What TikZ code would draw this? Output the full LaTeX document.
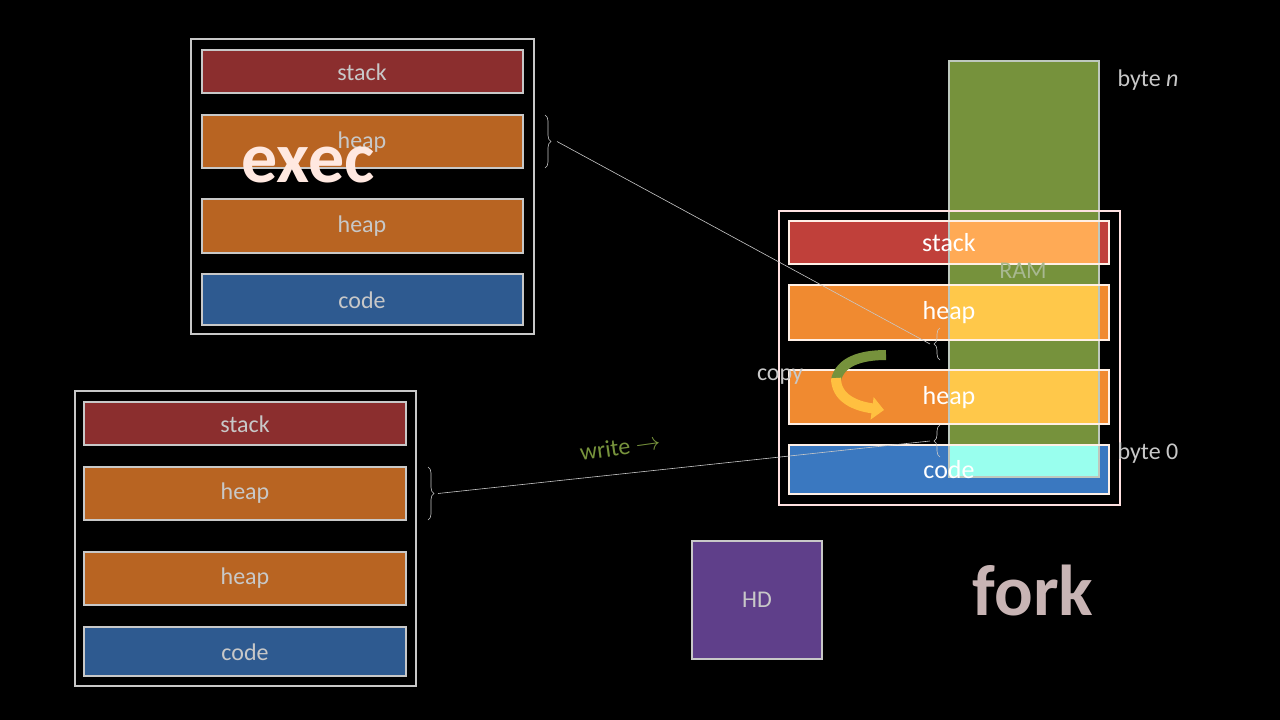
\documentclass[tikz,border=0pt]{standalone}
\usepackage{fontspec}
\setmainfont{Carlito}
\usetikzlibrary{arrows.meta,decorations.pathreplacing}
\definecolor{stk}{HTML}{8B2E2E}
\definecolor{hp}{HTML}{B86422}
\definecolor{cd}{HTML}{2E5A90}
\definecolor{stkR}{HTML}{C0403A}
\definecolor{hpR}{HTML}{F08A30}
\definecolor{cdR}{HTML}{3A78C0}
\definecolor{ram}{HTML}{76923C}
\definecolor{txt}{HTML}{C8C8C8}
\definecolor{stkL}{HTML}{FFAA55}
\definecolor{hpL}{HTML}{FFC84A}
\definecolor{cdL}{HTML}{99FFEE}
\definecolor{arrY}{HTML}{FFC040}
\begin{document}
\begin{tikzpicture}[x=1pt,y=-1pt,
  lab/.style={text=txt,font=\fontsize{24}{24}\selectfont},
  frame/.style={draw=txt,line width=2pt},
  br/.style={draw=txt,line width=0.6pt,decorate,decoration={brace,amplitude=6pt}},
  lnk/.style={draw=txt,line width=0.6pt}]
\fill[black] (0,0) rectangle (1280,720);
% exec box
\draw[frame] (191,39) rectangle (534,334);
\fill[stk,draw=txt,line width=2pt] (202,50) rectangle (523,93); \node[lab] (es) at (362,72) {stack};
\fill[hp,draw=txt,line width=2pt] (202,115) rectangle (523,168); \node[lab] (eh1) at (362,142) {heap};
\fill[hp,draw=txt,line width=2pt] (202,199) rectangle (523,253); \node[lab] (eh2) at (362,226) {heap};
\fill[cd,draw=txt,line width=2pt] (202,274) rectangle (523,325); \node[lab] (ec) at (362,300) {code};
\node[text={rgb,255:red,255;green,232;blue,224},font=\bfseries\fontsize{72}{72}\selectfont] (exec) at (308,165) {exec};
% lower-left box
\draw[frame] (75,391) rectangle (416,686);
\fill[stk,draw=txt,line width=2pt] (84,402) rectangle (406,445); \node[lab] (ls) at (245,424) {stack};
\fill[hp,draw=txt,line width=2pt] (84,467) rectangle (406,520); \node[lab] (lh1) at (245,493) {heap};
\fill[hp,draw=txt,line width=2pt] (84,552) rectangle (406,605); \node[lab] (lh2) at (245,578) {heap};
\fill[cd,draw=txt,line width=2pt] (84,627) rectangle (406,676); \node[lab] (lc) at (245,652) {code};
% right box
\fill[stkR] (789,221) rectangle (1109,264);
\fill[hpR] (789,285) rectangle (1109,340);
\fill[hpR] (789,370) rectangle (1109,424);
\fill[cdR] (789,445) rectangle (1109,494);
\fill[ram] (949,61) rectangle (1099,477);
\fill[stkL] (949,221) rectangle (1099,264);
\fill[hpL] (949,285) rectangle (1099,340);
\fill[hpL] (949,370) rectangle (1099,424);
\fill[cdL] (949,445) rectangle (1099,477);
\draw[draw={rgb,255:red,190;green,200;blue,190},line width=2pt] (949,61) rectangle (1099,477);
\foreach \a/\b in {221/264,285/340,370/424,445/494}
  \draw[draw={rgb,255:red,255;green,240;blue,230},line width=2pt] (789,\a) rectangle (1109,\b);
\draw[draw={rgb,255:red,255;green,225;blue,225},line width=2pt] (779,211) rectangle (1120,505);
\node[text={rgb,255:red,168;green,184;blue,144},font=\fontsize{24}{24}\selectfont] (ram) at (1023,271) {RAM};
\node[text=white,font=\fontsize{26}{26}\selectfont] (rs) at (949,243) {stack};
\node[text=white,font=\fontsize{26}{26}\selectfont] (rh1) at (949,313) {heap};
\node[text=white,font=\fontsize{26}{26}\selectfont] (rh2) at (949,398) {heap};
\node[text=white,font=\fontsize{26}{26}\selectfont] (rc) at (949,470) {code};
\node[lab,anchor=west] (bn) at (1114,80) {byte \textit{n}};
\node[lab,anchor=west] (b0) at (1114,453) {byte 0};
% copy arrow
\node[lab] (copy) at (780,377) {copy};
\draw[ram,line width=10pt] (886,355) .. controls (860,355) and (840,362) .. (836,380);
\draw[arrY,line width=10pt,-{Triangle[length=12pt,width=22pt]}] (836,378) .. controls (836,398) and (855,406) .. (884,410);
% braces and links
\draw[br] (545,115) -- (545,168) coordinate[midway,xshift=12pt] (t1);
\draw[br] (428,467) -- (428,520) coordinate[midway,xshift=10pt] (t2);
\draw[br] (940,360) -- (940,328) coordinate[midway,xshift=-10pt] (t3);
\draw[br] (940,457) -- (940,425) coordinate[midway,xshift=-10pt] (t4);
\draw[lnk] (t1) -- (t3);
\draw[lnk] (t2) -- (t4);
\node[text={rgb,255:red,119;green,147;blue,60},font=\fontsize{24}{24}\selectfont,rotate=8] (write) at (620,447) {write $\rightarrow$};
% HD
\node[draw=txt,line width=2pt,fill={rgb,255:red,95;green,63;blue,138},minimum width=130pt,minimum height=118pt,text=txt,font=\fontsize{24}{24}\selectfont] (hd) at (757,600) {HD};
\node[text={rgb,255:red,200;green,180;blue,180},font=\bfseries\fontsize{72}{72}\selectfont] (fork) at (1033,590) {fork};
\end{tikzpicture}
\end{document}
